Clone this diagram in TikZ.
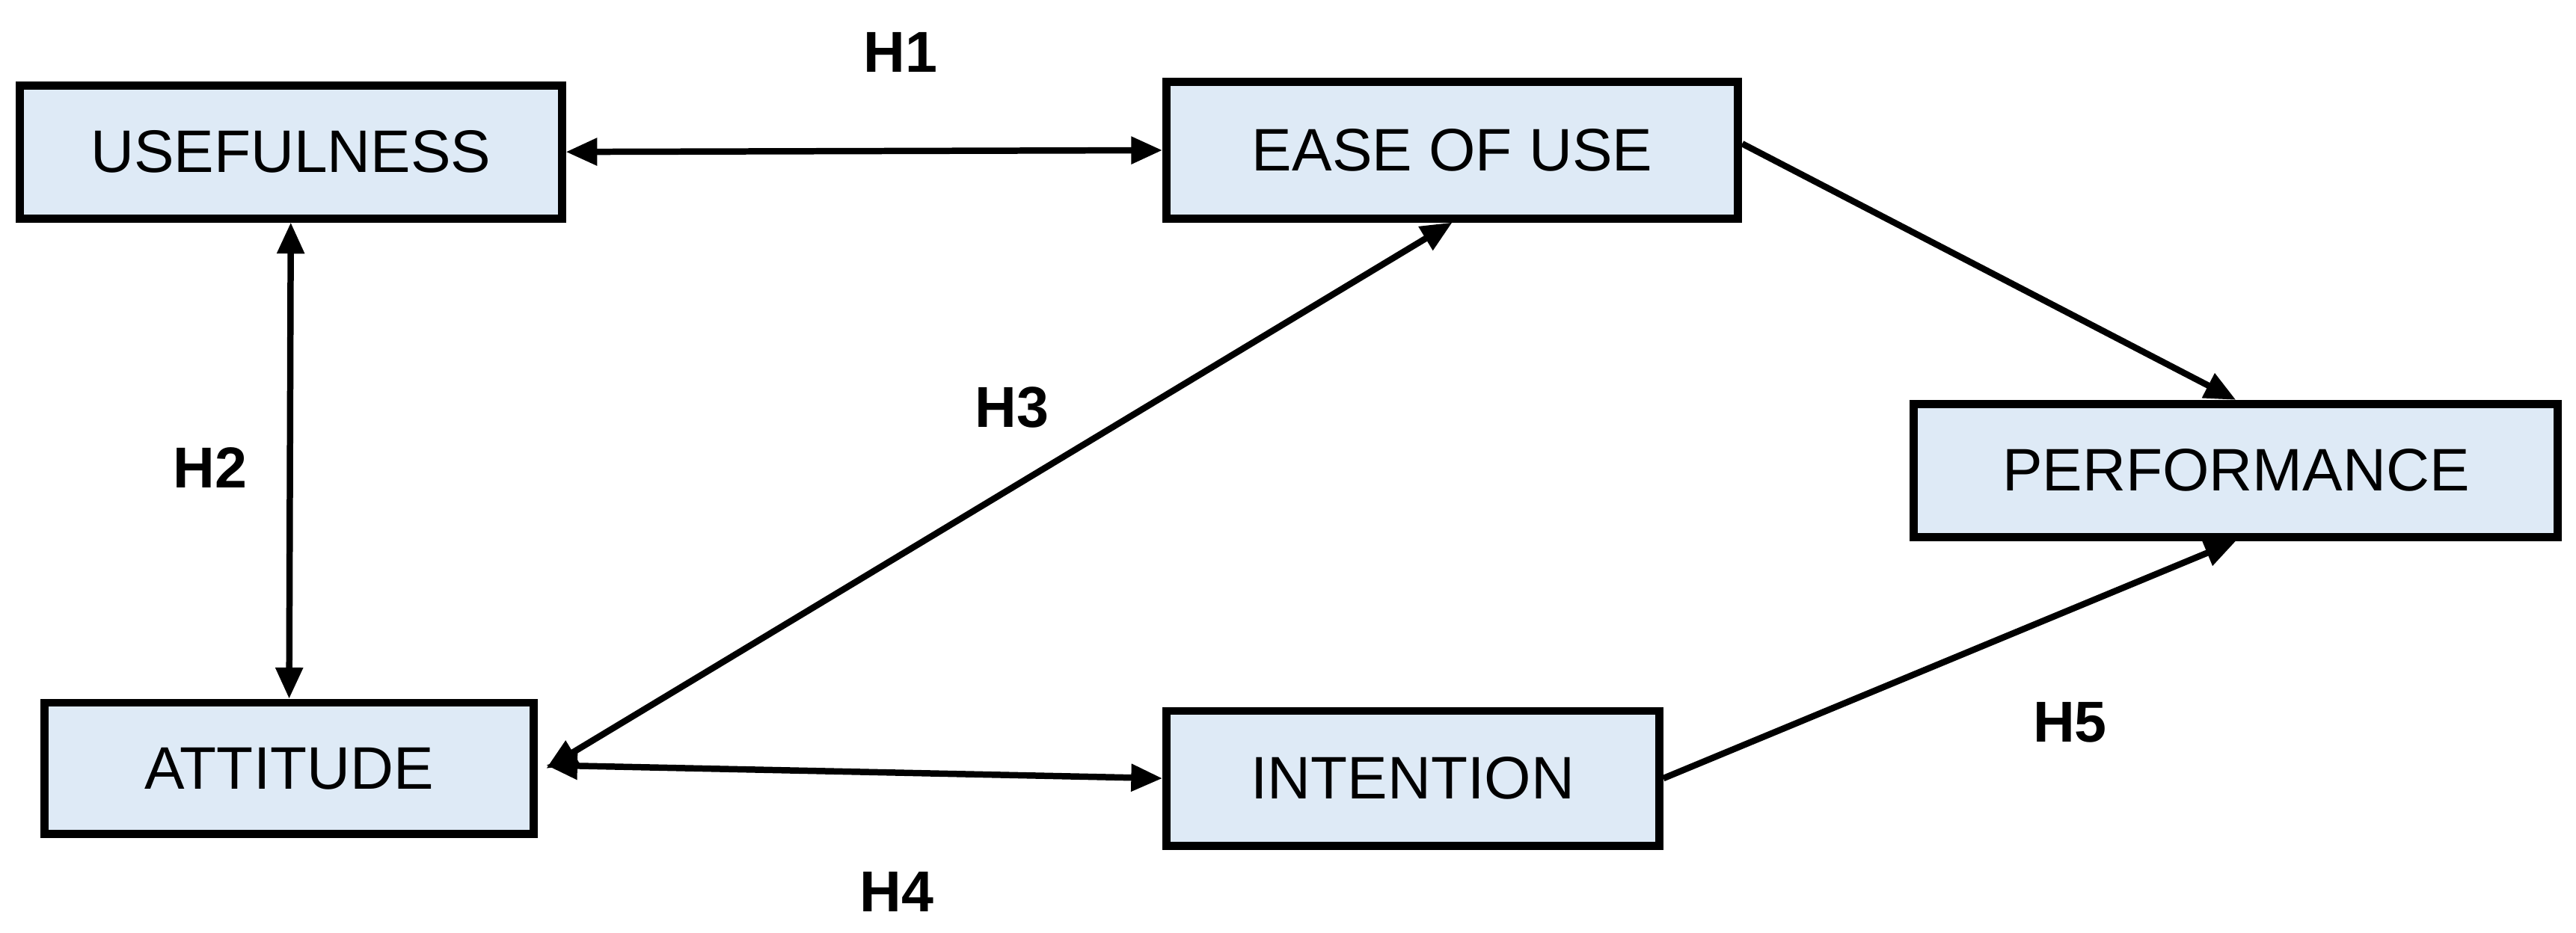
\documentclass[tikz,border=0pt]{standalone}
\usepackage{fontspec}
\setmainfont{Liberation Sans}
\usetikzlibrary{arrows.meta}
\definecolor{boxfill}{HTML}{DEEAF6}
\begin{document}
\begin{tikzpicture}[x=0.05cm,y=-0.05cm,
  box/.style={draw=black,fill=boxfill,line width=7pt,inner sep=0pt,font=\fontsize{52}{56}\selectfont},
  conn/.style={line width=5.5pt,-{Triangle[length=0.95cm,width=0.8cm]}},
  biconn/.style={line width=5.5pt,{Triangle[length=0.95cm,width=0.8cm]}-{Triangle[length=0.95cm,width=0.8cm]}},
  lab/.style={font=\bfseries\fontsize{50}{54}\selectfont}]
\useasboundingbox (0,0) rectangle (1568,568);
\node[box,minimum width=330*0.05cm,minimum height=81*0.05cm] (use) at (177,92.5) {USEFULNESS};
\node[box,minimum width=348*0.05cm,minimum height=83*0.05cm] (ease) at (884,91.5) {EASE OF USE};
\node[box,minimum width=392*0.05cm,minimum height=81*0.05cm] (perf) at (1361,286.5) {PERFORMANCE};
\node[box,minimum width=298*0.05cm,minimum height=80*0.05cm] (att) at (176,468) {ATTITUDE};
\node[box,minimum width=300*0.05cm,minimum height=82*0.05cm] (int) at (860,474) {INTENTION};
\draw[biconn] (use.east) -- (ease.west);
\draw[biconn] (use.south) -- (att.south |- att.north);
\draw[biconn] ([xshift=0.25cm]att.east) -- (ease.south);
\draw[biconn] ([xshift=0.25cm,yshift=0.1cm]att.east) -- (int.west);
\draw[conn] ([yshift=0.2cm]ease.east) -- (perf.north);
\draw[conn] (int.east) -- (perf.south);
\node[lab] (h1) at (548,32) {H1};
\node[lab] (h2) at (128,285) {H2};
\node[lab] (h3) at (616,248) {H3};
\node[lab] (h4) at (546,543) {H4};
\node[lab] (h5) at (1260,440) {H5};
\end{tikzpicture}
\end{document}
